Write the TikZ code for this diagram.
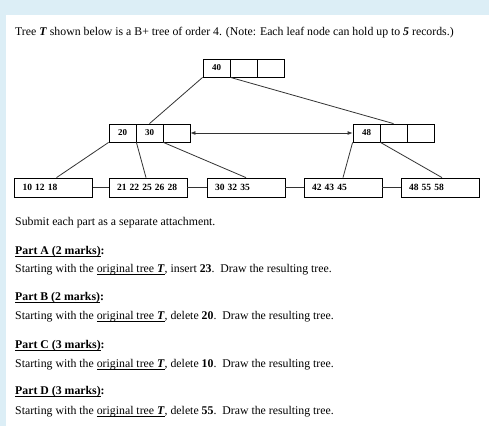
\documentclass[tikz,border=0pt]{standalone}
\usepackage{fontspec}
\setmainfont{Liberation Serif}
\usepackage{tikz}
\usetikzlibrary{arrows.meta,positioning}
\definecolor{pagebg}{RGB}{220,238,246}
\newcommand\ulin[1]{\underline{\smash{#1}}}
\tikzset{
  cell/.style={draw,thick,fill=white,minimum width=27,minimum height=18,inner sep=0,font=\fontsize{9}{10}\selectfont\bfseries},
  leaf/.style={draw,thick,fill=white,minimum height=19,text width=62,align=left,inner xsep=8,inner ysep=0,font=\fontsize{9.5}{10}\selectfont\bfseries},
  line/.style={thick,draw=black!80},
  txt/.style={anchor=west,inner sep=0,font=\fontsize{11.8}{13}\selectfont}
}
\begin{document}
\begin{tikzpicture}[x=1pt,y=-1pt]
  \useasboundingbox (0,0) rectangle (489,426);
  \fill[pagebg] (0,0) rectangle (489,426);
  \fill[white] (6,15) rectangle (489,426);

  \node[txt] (title) at (15,33) {Tree \textbf{\textit{T}} shown below is a B+ tree of order 4. (Note: Each leaf node can hold up to \textbf{\textit{5}} records.)};

  % root
  \node[cell] (r1) at (216.5,68) {40};
  \node[cell] (r2) at (243.5,68) {};
  \node[cell] (r3) at (270.5,68) {};
  % internal nodes
  \node[cell] (a1) at (122.5,133) {20};
  \node[cell] (a2) at (149.5,133) {30};
  \node[cell] (a3) at (176.5,133) {};
  \node[cell] (b1) at (366.5,133) {48};
  \node[cell] (b2) at (393.5,133) {};
  \node[cell] (b3) at (420.5,133) {};
  % leaves
  \node[leaf] (l1) at (53.5,187.5) {10 12 18};
  \node[leaf] (l2) at (148,187.5) {21 22 25 26 28};
  \node[leaf] (l3) at (246,187.5) {30 32 35};
  \node[leaf] (l4) at (343,187.5) {42 43 45};
  \node[leaf] (l5) at (440,187.5) {48 55 58};

  \draw[line] (r1.south west) -- (a2.north);
  \draw[line] (r1.south east) -- (b2.north);
  \draw[line] (a1.south west) -- ([xshift=3]l1.north);
  \draw[line] (a1.south east) -- ([xshift=-2]l2.north);
  \draw[line] (a2.south east) -- (l3.north);
  \draw[line] (b1.south west) -- (l4.north);
  \draw[line] (b1.south east) -- ([xshift=2]l5.north);
  \draw[line,{Latex[length=5,width=4]}-{Latex[length=5,width=4]}] (a3.east) -- (b1.west);
  \draw[line] (l1) -- (l2);
  \draw[line] (l2) -- (l3);
  \draw[line] (l3) -- (l4);
  \draw[line] (l4) -- (l5);

  \node[txt] (submit) at (15,223) {Submit each part as a separate attachment.};
  \node[txt] (pa) at (15,253) {\textbf{\ulin{Part A (2 marks)}:}};
  \node[txt] (qa) at (15,270) {Starting with the \ulin{original tree \textbf{\textit{T}}}, insert \textbf{23}.\ \ Draw the resulting tree.};
  \node[txt] (pb) at (15,299) {\textbf{\ulin{Part B (2 marks)}:}};
  \node[txt] (qb) at (15,317) {Starting with the \ulin{original tree \textbf{\textit{T}}}, delete \textbf{20}.\ \ Draw the resulting tree.};
  \node[txt] (pc) at (15,347) {\textbf{\ulin{Part C (3 marks)}:}};
  \node[txt] (qc) at (15,365) {Starting with the \ulin{original tree \textbf{\textit{T}}}, delete \textbf{10}.\ \ Draw the resulting tree.};
  \node[txt] (pd) at (15,393) {\textbf{\ulin{Part D (3 marks)}:}};
  \node[txt] (qd) at (15,412) {Starting with the \ulin{original tree \textbf{\textit{T}}}, delete \textbf{55}.\ \ Draw the resulting tree.};
\end{tikzpicture}
\end{document}
